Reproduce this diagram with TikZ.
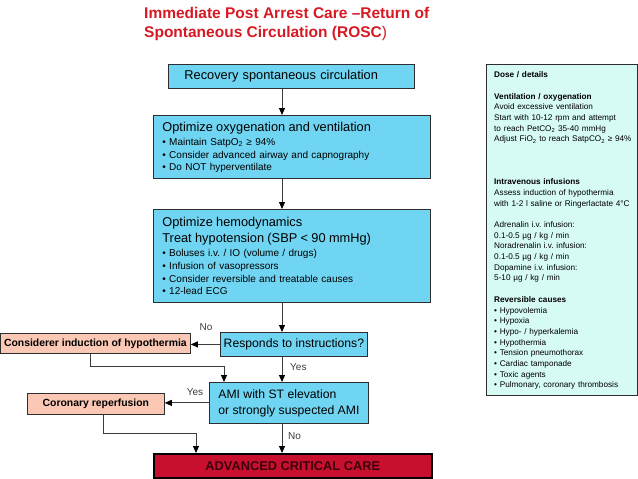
\documentclass[tikz,border=0pt]{standalone}
\usepackage{fontspec}
\setmainfont{Liberation Sans}
\usetikzlibrary{arrows.meta}
\frenchspacing
\definecolor{cyanbox}{RGB}{112,213,242}
\definecolor{salmonbox}{RGB}{250,200,180}
\definecolor{panelbg}{RGB}{214,250,244}
\definecolor{advfill}{RGB}{200,16,46}
\definecolor{advtext}{RGB}{60,0,12}
\definecolor{titlered}{RGB}{215,25,35}
\definecolor{lineclr}{RGB}{60,60,60}
\definecolor{boxline}{RGB}{45,45,45}
\newcommand\fTitle{\fontsize{15.5}{19}\selectfont\bfseries}
\newcommand\fHead{\fontsize{12.8}{13}\selectfont}
\newcommand\fBul{\fontsize{10}{13}\selectfont}
\newcommand\fMid{\fontsize{12.2}{16}\selectfont}
\newcommand\fBoldS{\fontsize{10.4}{12}\selectfont\bfseries}
\newcommand\fAdv{\fontsize{12.8}{14}\selectfont\bfseries}
\newcommand\fPanel{\fontsize{8.2}{10.7}\selectfont}
\newcommand\fLbl{\fontsize{10}{12}\selectfont}
\begin{document}
\frenchspacing
\begin{tikzpicture}[x=1pt,y=-1pt,
  cbox/.style={draw=boxline, fill=cyanbox, line width=0.8pt, inner ysep=0pt, anchor=north west},
  sbox/.style={draw=boxline, fill=salmonbox, line width=0.8pt, inner sep=0pt, anchor=north west, font=\fBoldS},
  arr/.style={draw=lineclr, line width=0.9pt, -{Triangle[length=7pt,width=6pt,color=black]}},
  lbl/.style={font=\fLbl, text=lineclr, inner sep=0pt}]
\useasboundingbox (0,0) rectangle (638,479);

% title
\node[anchor=north west, inner sep=0pt, align=left, text=titlered, font=\fTitle] (title) at (144,7)
  {Immediate Post Arrest Care –Return of\\Spontaneous Circulation (ROSC\textmd{)}};

% spine and bend points
\coordinate (spine) at (282,0);
\coordinate (j1) at (224,366);
\coordinate (j2) at (196,433);

% main boxes
\node[cbox, minimum width=246, minimum height=24, text width=214, inner xsep=16, align=left, font=\fHead] (rec) at (168,64)
  {Recovery spontaneous circulation};

\node[cbox, minimum width=277, minimum height=63, text width=259, inner xsep=9, align=left] (ox) at (153,115)
  {\fHead Optimize oxygenation and ventilation\\[1pt]
   \fBul • Maintain SatpO\textsubscript{2} ≥ 94\%\\
   • Consider advanced airway and capnography\\
   • Do NOT hyperventilate};

\node[cbox, minimum width=277, minimum height=93, text width=259, inner xsep=9, align=left] (hd) at (153,209)
  {\fHead Optimize hemodynamics\\[3pt]
   Treat hypotension (SBP < 90 mmHg)\\[1pt]
   \fBul • Boluses i.v.\ / IO (volume / drugs)\\
   • Infusion of vasopressors\\
   • Consider reversible and treatable causes\\
   • 12-lead ECG};

\node[cbox, minimum width=145, minimum height=24, font=\fMid] (resp) at (220,332)
  {Responds to instructions?};

\node[cbox, minimum width=159, minimum height=41, align=left, font=\fMid] (ami) at (209,382)
  {AMI with ST elevation\\or strongly suspected AMI};

\node[sbox, minimum width=190, minimum height=20] (hyp) at (0,333)
  {Considerer induction of hypothermia};

\node[sbox, minimum width=137, minimum height=21] (cor) at (27,393)
  {Coronary reperfusion};

\node[draw=black, fill=advfill, line width=1.6pt, anchor=north west, minimum width=278, minimum height=24,
      inner sep=0pt, text=advtext, font=\fAdv] (adv) at (153,453)
  {ADVANCED CRITICAL CARE};

% side panel
\node[draw=boxline, fill=panelbg, line width=0.8pt, anchor=north west, minimum width=151, minimum height=331, inner sep=0pt] (panel) at (486,64) {};
\node[anchor=north west, inner sep=0pt, text width=150, align=left, font=\fPanel] (paneltext) at (494,71.5)
  {\textbf{Dose / details}\\[10.7pt]
   \textbf{Ventilation / oxygenation}\\
   Avoid excessive ventilation\\
   Start with 10-12 rpm and attempt\\
   to reach PetCO\textsubscript{2} 35-40 mmHg\\
   Adjust FiO\textsubscript{2} to reach SatpCO\textsubscript{2} ≥ 94\%\\[32.1pt]
   \textbf{Intravenous infusions}\\
   Assess induction of hypothermia\\
   with 1-2 l saline or Ringerlactate 4°C\\[10.7pt]
   Adrenalin i.v.\ infusion:\\
   0.1-0.5 µg / kg / min\\
   Noradrenalin i.v.\ infusion:\\
   0.1-0.5 µg / kg / min\\
   Dopamine i.v.\ infusion:\\
   5-10 µg / kg / min\\[10.7pt]
   \textbf{Reversible causes}\\
   • Hypovolemia\\
   • Hypoxia\\
   • Hypo- / hyperkalemia\\
   • Hypothermia\\
   • Tension pneumothorax\\
   • Cardiac tamponade\\
   • Toxic agents\\
   • Pulmonary, coronary thrombosis};

% connectors
\draw[arr] (rec.south -| spine) -- (ox.north -| spine);
\draw[arr] (ox.south -| spine) -- (hd.north -| spine);
\draw[arr] (hd.south -| spine) -- (resp.north -| spine);
\draw[arr] (resp.west) -- (resp.west -| hyp.east);
\draw[arr] ([xshift=-5pt]hyp.south) |- (j1) -- (ami.north -| j1);
\draw[arr] (resp.south -| spine) -- (ami.north -| spine);
\draw[arr] (ami.west) -- (ami.west -| cor.east);
\draw[arr] ([xshift=7.5pt]cor.south) |- (j2) -- (adv.north -| j2);
\draw[arr] (ami.south -| spine) -- (adv.north -| spine);

% labels
\node[lbl] (lno1) at (206,327) {No};
\node[lbl, anchor=west] (lyes1) at (290,367) {Yes};
\node[lbl] (lyes2) at (195,392) {Yes};
\node[lbl, anchor=west] (lno2) at (288,436) {No};
\end{tikzpicture}
\end{document}
